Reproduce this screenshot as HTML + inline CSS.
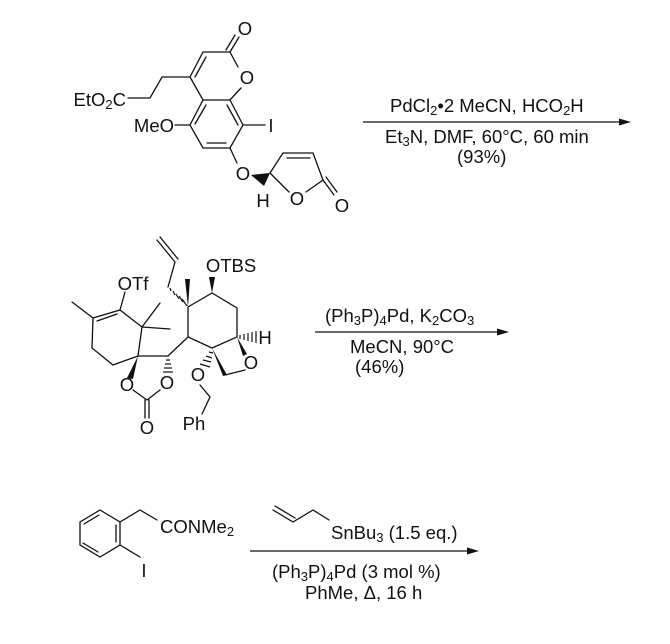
<!DOCTYPE html>
<html><head><meta charset="utf-8"><style>
html,body{margin:0;padding:0;background:#fff;}
svg{display:block;}
text{font-family:"Liberation Sans",Arial,sans-serif;fill:#111;font-size:18.5px;}
.m{text-anchor:middle;}
.e{text-anchor:end;}
</style></head><body>
<svg width="670" height="644" viewBox="0 0 670 644" xmlns="http://www.w3.org/2000/svg">
<g stroke="#111" stroke-width="1.3" fill="none" stroke-linecap="round">
<path d="M190,77 L203,52 L230,52 L238,67 M241,88 L230,100 L203,100 L190,77"/>
<path d="M195,77 L206,57" />
<path d="M230,52 L239,37 M226,50 L235,35"/>
<path d="M230,100 L243,125 L230,148 L203,148 L190,125 L203,100"/>
<path d="M195,124 L206,105 M238,125 L227,105 M207,143 L226,143"/>
<path d="M190,77 L162,77 L150,98 L128,98"/>
<path d="M175,125 L190,125"/>
<path d="M243,125 L265,125"/>
<path d="M230,148 L237,163"/>
<path d="M270,173 L283,153 L313,153 L323,180 L306,192 M289,192 L270,173"/>
<path d="M287,158 L310,158"/>
<path d="M323,180 L334,195 M326,177 L337,192"/>
</g>
<polygon points="251,175 270,173 264,186" fill="#111"/>
<text class="m" x="245" y="35">O</text>
<text class="m" x="247" y="84">O</text>
<text class="e" x="126" y="106">EtO<tspan font-size="13" dy="3">2</tspan><tspan dy="-3">C</tspan></text>
<text class="e" x="174" y="132">MeO</text>
<text class="m" x="271" y="132">I</text>
<text class="m" x="243" y="180">O</text>
<text class="m" x="263" y="207">H</text>
<text class="m" x="297" y="205">O</text>
<text class="m" x="342" y="212">O</text>

<line x1="363" y1="122" x2="622" y2="122" stroke="#111" stroke-width="1.2"/>
<polygon points="631,122 619,118.5 619,125.5" fill="#111"/>
<text x="390" y="112">PdCl<tspan font-size="13" dy="3">2</tspan><tspan dy="-3">•2 MeCN, HCO</tspan><tspan font-size="13" dy="3">2</tspan><tspan dy="-3">H</tspan></text>
<text x="385" y="143">Et<tspan font-size="13" dy="3">3</tspan><tspan dy="-3">N, DMF, 60°C, 60 min</tspan></text>
<text x="457" y="163">(93%)</text>

<g stroke="#111" stroke-width="1.3" fill="none" stroke-linecap="round">
<path d="M157,240 L175,262 L168,287"/>
<path d="M160,237 L178,259"/>
<path d="M188,307 L212,293 L237,308 L237,337 L212,348 L188,337 L188,307"/>
<path d="M245,370 L225,375"/>
<path d="M200,385 L210,397 L202,414"/>
<path d="M188,337 L168,356"/>
<path d="M138,356 L142,327 L120,310 L93,318 L92,348 L113,365 L138,356"/>
<path d="M117,314 L97,321"/>
<path d="M93,318 L72,302"/>
<path d="M142,327 L160,303 M142,327 L170,329"/>
<path d="M120,310 L125,292"/>
<path d="M138,356 L168,356"/>
<path d="M133,390 L147,400 L160,390 M149,400 L149,418 M145,400 L145,418"/>
</g>
<polygon points="212,293 209,277 215,277" fill="#111"/>
<polygon points="188,307 185,279 190,279" fill="#111"/>
<polygon points="212,348 227,375 223,376" fill="#111"/>
<polygon points="237,337 247,354 243,356" fill="#111"/>
<polygon points="138,356 127,378 133,379" fill="#111"/>
<g stroke="#111" stroke-width="1.2">
<line x1="171" y1="291" x2="170" y2="288"/><line x1="175" y1="295" x2="173" y2="291"/><line x1="179" y1="299" x2="176" y2="294"/><line x1="183" y1="302" x2="179" y2="296"/><line x1="187" y1="306" x2="182" y2="299"/>
<line x1="240" y1="335" x2="240" y2="339"/><line x1="244" y1="334" x2="244" y2="340"/><line x1="248" y1="333" x2="248" y2="341"/><line x1="252" y1="332" x2="252" y2="342"/><line x1="256" y1="331" x2="256" y2="343"/>
<line x1="166" y1="360" x2="170" y2="360"/><line x1="165" y1="364" x2="171" y2="364"/><line x1="164" y1="368" x2="172" y2="368"/><line x1="163" y1="372" x2="173" y2="372"/>
<line x1="209" y1="352" x2="213" y2="353"/><line x1="206" y1="356" x2="212" y2="358"/><line x1="203" y1="360" x2="211" y2="362"/><line x1="200" y1="364" x2="210" y2="367"/>
</g>
<text class="m" x="231" y="272">OTBS</text>
<text class="m" x="133" y="290">OTf</text>
<text class="m" x="265" y="344">H</text>
<text class="m" x="251" y="369">O</text>
<text class="m" x="198" y="381">O</text>
<text class="m" x="127" y="391">O</text>
<text class="m" x="167" y="389">O</text>
<text class="m" x="147" y="434">O</text>
<text class="m" x="194" y="430">Ph</text>

<line x1="315" y1="332" x2="500" y2="332" stroke="#111" stroke-width="1.2"/>
<polygon points="509,332 497,328.5 497,335.5" fill="#111"/>
<text x="325" y="322">(Ph<tspan font-size="13" dy="3">3</tspan><tspan dy="-3">P)</tspan><tspan font-size="13" dy="3">4</tspan><tspan dy="-3">Pd, K</tspan><tspan font-size="13" dy="3">2</tspan><tspan dy="-3">CO</tspan><tspan font-size="13" dy="3">3</tspan></text>
<text x="350" y="353">MeCN, 90°C</text>
<text x="355" y="373">(46%)</text>

<g stroke="#111" stroke-width="1.3" fill="none" stroke-linecap="round">
<path d="M100,510 L120,522 L120,545 L100,557 L80,545 L80,522 Z"/>
<path d="M116,525 L116,542 M98,552 L83,543 M84,524 L99,515"/>
<path d="M120,522 L140,510 L157,520"/>
<path d="M120,545 L140,557"/>
<path d="M273,510 L293,522 L313,510 L329,520"/>
<path d="M275,506 L295,518"/>
</g>
<text x="160" y="533">CONMe<tspan font-size="13" dy="3">2</tspan></text>
<text class="m" x="144" y="577">I</text>
<text x="331" y="539">SnBu<tspan font-size="13" dy="3">3</tspan><tspan dy="-3"> (1.5 eq.)</tspan></text>
<line x1="250" y1="551" x2="470" y2="551" stroke="#111" stroke-width="1.2"/>
<polygon points="479,551 467,547.5 467,554.5" fill="#111"/>
<text x="272" y="578">(Ph<tspan font-size="13" dy="3">3</tspan><tspan dy="-3">P)</tspan><tspan font-size="13" dy="3">4</tspan><tspan dy="-3">Pd (3 mol %)</tspan></text>
<text x="305" y="599">PhMe, Δ, 16 h</text>
</svg>
</body></html>
